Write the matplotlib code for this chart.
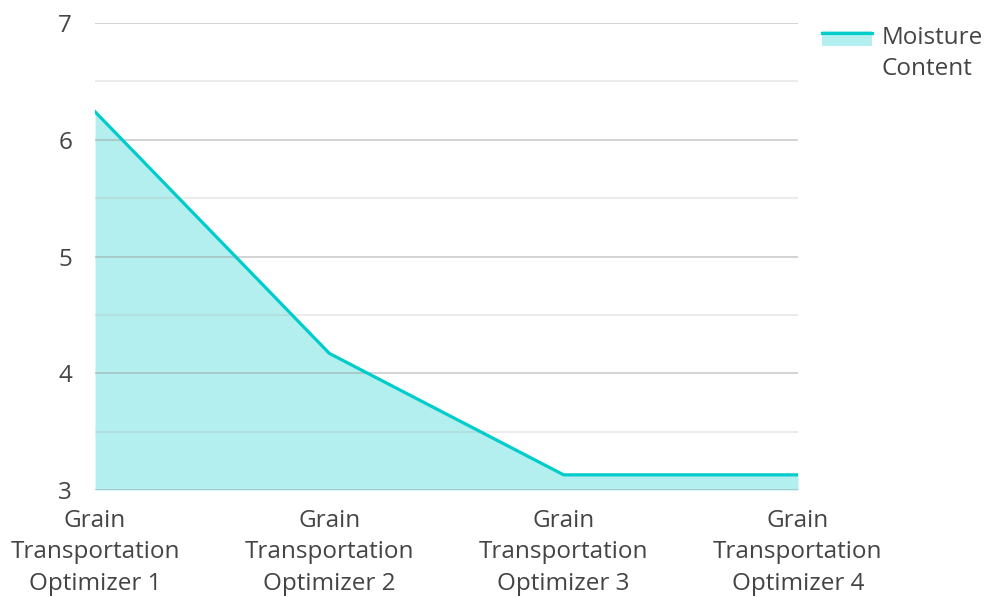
import matplotlib.pyplot as plt
from matplotlib.lines import Line2D
from matplotlib.patches import Rectangle
from matplotlib.legend_handler import HandlerBase

plt.rcParams['font.family'] = ['Open Sans', 'DejaVu Sans']

# moisture content per optimizer
categories = ['Grain\nTransportation\nOptimizer 1', 'Grain\nTransportation\nOptimizer 2',
              'Grain\nTransportation\nOptimizer 3', 'Grain\nTransportation\nOptimizer 4']
moisture = [6.24, 4.17, 3.13, 3.13]
y_ticks = [3, 4, 5, 6, 7]
y_minor = [3.5, 4.5, 5.5, 6.5]
series_name = 'Moisture\nContent'

line_color = '#00cccc'
fill_color = '#b2efee'
text_color = '#444444'
fs = 17.5


class AreaHandler(HandlerBase):
    # legend key: light box with the line along its top edge, sitting next to the first text line
    def create_artists(self, legend, orig_handle, xdescent, ydescent, width, height, fontsize, trans):
        top = height - ydescent + 1.5
        box_h = 11
        box = Rectangle((-xdescent, top - box_h), width, box_h, facecolor=fill_color,
                        edgecolor='none', transform=trans)
        ln = Line2D([-xdescent, width - xdescent], [top - 1.1, top - 1.1], color=line_color,
                    linewidth=2.3, transform=trans)
        return [box, ln]


fig = plt.figure(figsize=(9.87, 5.97), dpi=100)
ax = fig.add_axes([0.0963, 0.1792, 0.7122, 0.7823])

x = list(range(len(categories)))
ax.fill_between(x, moisture, 3, color=fill_color, linewidth=0, zorder=1)
ax.plot(x, moisture, color=line_color, linewidth=2.3, zorder=3)

ax.set_xlim(0, len(categories) - 1)
ax.set_ylim(3, 7)
ax.set_yticks(y_ticks)
ax.set_yticks(y_minor, minor=True)
ax.set_xticks(x)
ax.set_xticklabels(categories, linespacing=1.42)

ax.grid(axis='y', which='major', color='#999999', linewidth=1.2, alpha=0.5, zorder=2)
ax.grid(axis='y', which='minor', color='#bbbbbb', linewidth=1.2, alpha=0.35, zorder=2)
ax.set_axisbelow(False)
for s in ax.spines.values():
    s.set_visible(False)

ax.tick_params(axis='both', which='both', length=0, labelsize=fs, labelcolor=text_color)
ax.tick_params(axis='y', pad=16.5)
ax.tick_params(axis='x', pad=13.5)

leg = ax.legend([Line2D([], [])], [series_name], handler_map={Line2D: AreaHandler()},
                loc='upper left', bbox_to_anchor=(1.034, 0.994), frameon=False,
                prop={'size': fs}, labelcolor=text_color, handlelength=2.05, handleheight=2.4,
                handletextpad=0.4, borderpad=0, borderaxespad=0)
for t in leg.get_texts():
    t.set_linespacing(1.42)

fig.savefig('out.png', dpi=100)
